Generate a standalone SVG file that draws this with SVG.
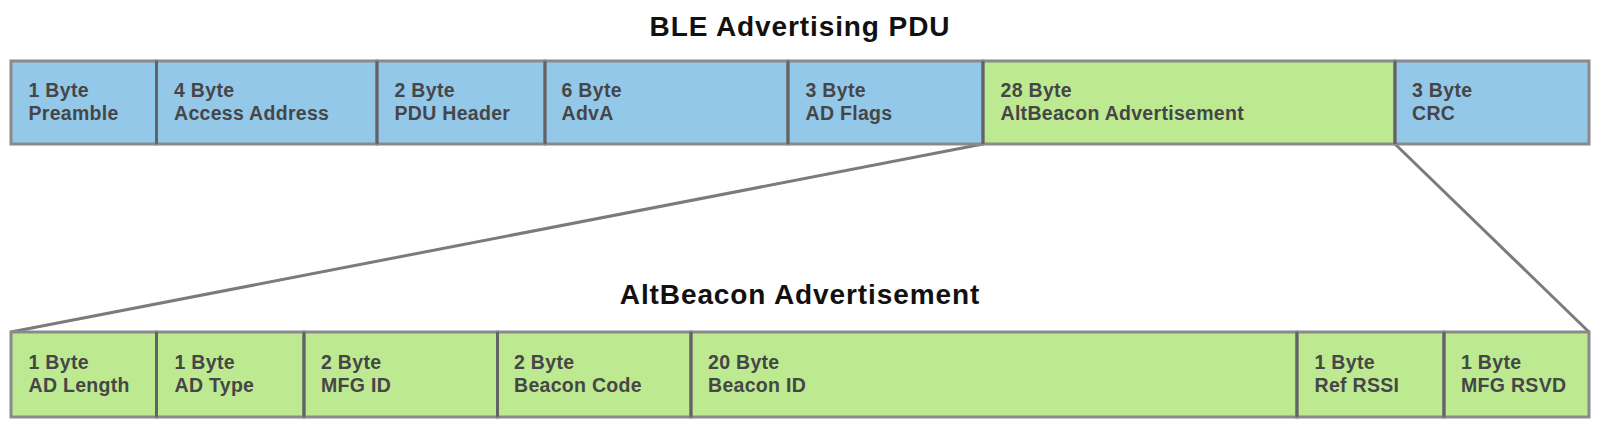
<svg xmlns="http://www.w3.org/2000/svg" width="1600" height="432" viewBox="0 0 1600 432">
<style>
.cell{stroke:#898a8d;stroke-width:3}
.blue{fill:#94c8e8}
.green{fill:#bde990}
.div{stroke:#626366;stroke-width:3}
.lbl{font-family:"Liberation Sans",Arial,sans-serif;font-weight:bold;font-size:19.5px;letter-spacing:0.3px;fill:#464648}
.title{font-family:"Liberation Sans",Arial,sans-serif;font-weight:bold;font-size:28px;letter-spacing:0.9px;fill:#111111;text-anchor:middle}
.conn{stroke:#7b7b7d;stroke-width:3;fill:none}
</style>
<rect width="1600" height="432" fill="#ffffff"/>
<text class="title" x="800" y="36">BLE Advertising PDU</text>
<text class="title" x="800" y="304">AltBeacon Advertisement</text>
<g id="connectors">
<line class="conn" x1="983" y1="144" x2="11" y2="332"/>
<line class="conn" x1="1395" y1="144" x2="1589" y2="332"/>
</g>
<g id="pdu-preamble"><rect class="cell blue" x="11" y="61" width="145.5" height="83"/><text class="lbl" x="28.5" y="96.5">1 Byte</text><text class="lbl" x="28.5" y="120">Preamble</text></g>
<g id="pdu-access-address"><rect class="cell blue" x="156.5" y="61" width="220.5" height="83"/><line class="div" x1="156.5" y1="61" x2="156.5" y2="144"/><text class="lbl" x="174" y="96.5">4 Byte</text><text class="lbl" x="174" y="120">Access Address</text></g>
<g id="pdu-header"><rect class="cell blue" x="377" y="61" width="168" height="83"/><line class="div" x1="377" y1="61" x2="377" y2="144"/><text class="lbl" x="394.5" y="96.5">2 Byte</text><text class="lbl" x="394.5" y="120">PDU Header</text></g>
<g id="pdu-adva"><rect class="cell blue" x="545" y="61" width="243" height="83"/><line class="div" x1="545" y1="61" x2="545" y2="144"/><text class="lbl" x="561.5" y="96.5">6 Byte</text><text class="lbl" x="561.5" y="120">AdvA</text></g>
<g id="pdu-ad-flags"><rect class="cell blue" x="788" y="61" width="195" height="83"/><line class="div" x1="788" y1="61" x2="788" y2="144"/><text class="lbl" x="805.5" y="96.5">3 Byte</text><text class="lbl" x="805.5" y="120">AD Flags</text></g>
<g id="pdu-altbeacon"><rect class="cell green" x="983" y="61" width="412" height="83"/><line class="div" x1="983" y1="61" x2="983" y2="144"/><text class="lbl" x="1000.5" y="96.5">28 Byte</text><text class="lbl" x="1000.5" y="120">AltBeacon Advertisement</text></g>
<g id="pdu-crc"><rect class="cell blue" x="1395" y="61" width="194" height="83"/><line class="div" x1="1395" y1="61" x2="1395" y2="144"/><text class="lbl" x="1412" y="96.5">3 Byte</text><text class="lbl" x="1412" y="120">CRC</text></g>
<g id="ab-ad-length"><rect class="cell green" x="11" y="332" width="145.5" height="85"/><text class="lbl" x="28.5" y="369">1 Byte</text><text class="lbl" x="28.5" y="392">AD Length</text></g>
<g id="ab-ad-type"><rect class="cell green" x="156.5" y="332" width="147.5" height="85"/><line class="div" x1="156.5" y1="332" x2="156.5" y2="417"/><text class="lbl" x="174.5" y="369">1 Byte</text><text class="lbl" x="174.5" y="392">AD Type</text></g>
<g id="ab-mfg-id"><rect class="cell green" x="304" y="332" width="193.5" height="85"/><line class="div" x1="304" y1="332" x2="304" y2="417"/><text class="lbl" x="321" y="369">2 Byte</text><text class="lbl" x="321" y="392">MFG ID</text></g>
<g id="ab-beacon-code"><rect class="cell green" x="497.5" y="332" width="193.5" height="85"/><line class="div" x1="497.5" y1="332" x2="497.5" y2="417"/><text class="lbl" x="514" y="369">2 Byte</text><text class="lbl" x="514" y="392">Beacon Code</text></g>
<g id="ab-beacon-id"><rect class="cell green" x="691" y="332" width="606" height="85"/><line class="div" x1="691" y1="332" x2="691" y2="417"/><text class="lbl" x="708" y="369">20 Byte</text><text class="lbl" x="708" y="392">Beacon ID</text></g>
<g id="ab-ref-rssi"><rect class="cell green" x="1297" y="332" width="147" height="85"/><line class="div" x1="1297" y1="332" x2="1297" y2="417"/><text class="lbl" x="1314.5" y="369">1 Byte</text><text class="lbl" x="1314.5" y="392">Ref RSSI</text></g>
<g id="ab-mfg-rsvd"><rect class="cell green" x="1444" y="332" width="145" height="85"/><line class="div" x1="1444" y1="332" x2="1444" y2="417"/><text class="lbl" x="1461" y="369">1 Byte</text><text class="lbl" x="1461" y="392">MFG RSVD</text></g>
</svg>
